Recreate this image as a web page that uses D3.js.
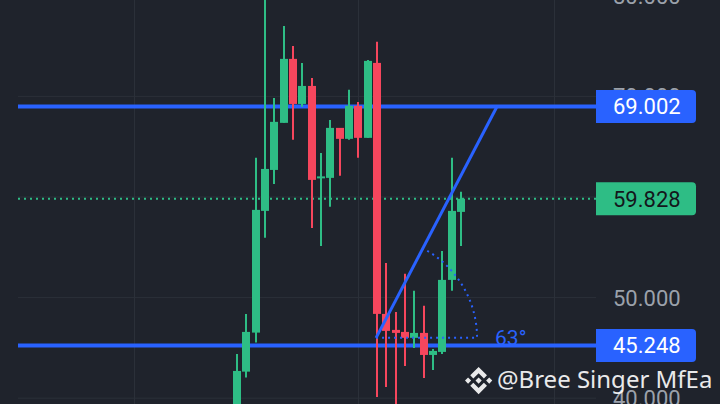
<!DOCTYPE html>
<html><head><meta charset="utf-8">
<script src="https://cdn.jsdelivr.net/npm/d3@7"></script>
<style>html,body{margin:0;padding:0;background:#1f232c;overflow:hidden}</style>
</head><body>
<svg id="c" width="720" height="404"></svg>
<script>
// ---- data ----
const opens  = [38.5, 42.64, 46.52, 58.62, 62.69, 67.37, 73.73, 69.25, 71.04, 61.95, 61.90, 66.87, 65.78, 69.06, 65.88, 73.33, 48.38, 46.79, 46.59, 46.00, 46.49, 44.30, 44.60, 51.76, 58.52];
const closes = [42.71, 46.59, 58.72, 62.79, 67.47, 73.73, 69.25, 71.04, 61.70, 62.05, 66.87, 65.78, 69.06, 65.88, 73.53, 48.38, 46.69, 46.49, 46.00, 46.49, 44.30, 44.70, 51.76, 58.62, 59.828];
const highs  = [44.40, 48.38, 63.89, 81.0, 69.85, 77.01, 75.02, 73.33, 71.84, 64.38, 67.66, 66.87, 70.65, 69.45, 73.63, 75.42, 53.45, 48.58, 52.36, 50.67, 49.18, 44.90, 54.64, 63.89, 60.51];
const lows   = [37.5, 42.05, 45.53, 55.96, 61.30, 67.37, 65.68, 68.96, 56.93, 55.14, 59.02, 62.10, 65.68, 63.89, 65.88, 40.13, 41.12, 39.0, 43.21, 45.0, 42.02, 42.81, 44.40, 50.67, 55.14];
const yTicks = [40, 50, 60, 70, 80];
const timeGrid = [-11, 13, 34];
const levelLines = [69.002, 45.248];
const lastPrice = 59.828;
const trendIdx = [14.9, 27.86];
const trendVal = [46.0, 69.002];
const angleLabel = "63°";
const watermark = "@Bree Singer MfEa";

// ---- style ----
const BG = "#1f232c", GRID = "#2b3039", UP = "#2ebd85", DOWN = "#f6465d", BLUE = "#2962ff", AXIS = "#9ba1ab";

const svg = d3.select("#c");
svg.append("rect").attr("width", 720).attr("height", 404).attr("fill", BG);

const x = d3.scaleLinear().domain([0, 24]).range([237, 461]);
const y = d3.scaleLinear().domain([40, 80]).range([398.2, -4.2]);
const plotL = 18, plotR = 596;

// grid
svg.append("g").selectAll("line").data(yTicks).join("line")
  .attr("x1", plotL).attr("x2", plotR).attr("y1", d => y(d)).attr("y2", d => y(d))
  .attr("stroke", GRID).attr("stroke-width", 1);
svg.append("g").selectAll("line").data(timeGrid).join("line")
  .attr("x1", d => Math.round(x(d)) + 0.5).attr("x2", d => Math.round(x(d)) + 0.5).attr("y1", 0).attr("y2", 404)
  .attr("stroke", GRID).attr("stroke-width", 1);

// axis labels
svg.append("g").selectAll("text").data(yTicks).join("text")
  .attr("x", 613).attr("y", d => y(d)).attr("dy", "0.36em")
  .attr("fill", AXIS).attr("font-family", "Roboto").attr("font-size", 22)
  .text(d => d3.format(".3f")(d));

// last price dotted line
svg.append("line").attr("x1", plotL).attr("x2", plotR).attr("y1", y(lastPrice)).attr("y2", y(lastPrice))
  .attr("stroke", UP).attr("stroke-width", 2).attr("stroke-dasharray", "2,4");

// level lines
svg.append("g").selectAll("line").data(levelLines).join("line")
  .attr("x1", plotL).attr("x2", plotR).attr("y1", d => y(d)).attr("y2", d => y(d))
  .attr("stroke", BLUE).attr("stroke-width", 4);

// candles
const data = opens.map((o, i) => ({i, o, c: closes[i], h: highs[i], l: lows[i]}));
const cg = svg.append("g");
cg.selectAll("line").data(data).join("line")
  .attr("x1", d => Math.round(x(d.i))).attr("x2", d => Math.round(x(d.i)))
  .attr("y1", d => y(d.h)).attr("y2", d => y(d.l))
  .attr("stroke", d => d.c >= d.o ? UP : DOWN).attr("stroke-width", 2);
cg.selectAll("rect").data(data).join("rect")
  .attr("x", d => Math.round(x(d.i)) - 4).attr("width", 8)
  .attr("y", d => Math.min(y(d.o), y(d.c)))
  .attr("height", d => Math.max(2, Math.abs(y(d.o) - y(d.c))))
  .attr("fill", d => d.c >= d.o ? UP : DOWN);

// trend line + angle
const p0 = [x(trendIdx[0]), y(trendVal[0])], p1 = [x(trendIdx[1]), y(trendVal[1])];
const ang = Math.atan2(p0[1] - p1[1], p1[0] - p0[0]);
const r = 101;
svg.append("line").attr("x1", p0[0]).attr("y1", p0[1]).attr("x2", p1[0]).attr("y2", p1[1])
  .attr("stroke", BLUE).attr("stroke-width", 3);
const arcPts = d3.range(0, 41).map(k => {
  const a = ang * k / 40;
  return [p0[0] + r * Math.cos(a), p0[1] - r * Math.sin(a)];
});
const pathD = "M" + p0[0] + "," + p0[1] + " L" + (p0[0] + r) + "," + p0[1] + " " + d3.line()(arcPts).slice(1);
svg.append("path").attr("d", pathD).attr("fill", "none")
  .attr("stroke", BLUE).attr("stroke-width", 2).attr("stroke-dasharray", "2,4");
svg.append("text").attr("x", p0[0] + r + 18).attr("y", p0[1] + 7)
  .attr("fill", BLUE).attr("font-family", "Roboto").attr("font-size", 21).text(angleLabel);

// price boxes
function box(v, fill, color) {
  const yy = y(v), h = 33, x0 = 596, x1 = 696, rr = 4;
  const t = yy - h / 2, b = yy + h / 2;
  svg.append("path")
    .attr("d", `M${x0},${t} H${x1 - rr} Q${x1},${t} ${x1},${t + rr} V${b - rr} Q${x1},${b} ${x1 - rr},${b} H${x0} Z`)
    .attr("fill", fill);
  svg.append("text").attr("x", 613).attr("y", yy).attr("dy", "0.36em")
    .attr("fill", color).attr("font-family", "Roboto").attr("font-size", 22)
    .text(d3.format(".3f")(v));
}
levelLines.forEach(v => box(v, BLUE, "#ffffff"));
box(lastPrice, UP, "#14171c");

// watermark
const wm = svg.append("g").attr("fill", "#ffffff").attr("opacity", 0.9);
wm.append("path")
  .attr("d", "M38.73 53.2l24.59-24.58 24.6 24.6 14.3-14.31L63.32 0 24.42 38.9l14.31 14.3zM0 63.31l14.3-14.31 14.31 14.31-14.31 14.3zm38.73 10.11l24.59 24.59 24.6-24.6 14.31 14.29-38.9 38.91-38.91-38.88-.02-.02 14.33-14.29zm59.58-10.1l14.3-14.31 14.31 14.3-14.31 14.31zM77.83 63.3L63.32 48.78 52.59 59.51l-1.24 1.23-2.54 2.54 14.51 14.5 14.51-14.47z")
  .attr("transform", "translate(465,367) scale(0.215)");
wm.append("text").attr("x", 497).attr("y", 388)
  .attr("font-family", "Noto Sans").attr("font-size", 24).text(watermark);
</script>
</body></html>
